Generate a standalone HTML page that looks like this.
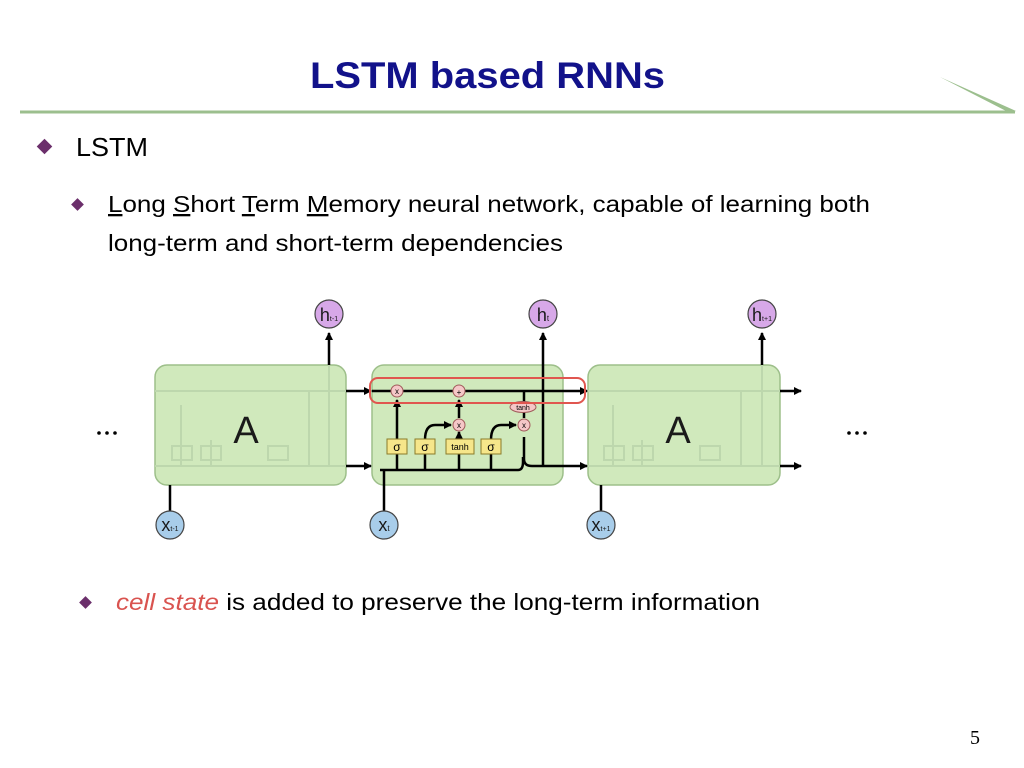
<!DOCTYPE html>
<html><head><meta charset="utf-8"><style>
html,body{margin:0;padding:0;background:#fff;width:1024px;height:768px;overflow:hidden}
svg{display:block}
</style></head><body>
<svg width="1024" height="768" viewBox="0 0 1024 768" xmlns="http://www.w3.org/2000/svg" font-family="Liberation Sans, sans-serif">
<defs>
<marker id="ar" markerWidth="8" markerHeight="8" refX="7" refY="4" orient="auto" markerUnits="userSpaceOnUse"><path d="M0,0 L8,4 L0,8 z" fill="#000"/></marker>
</defs>
<text x="310" y="88" textLength="355" lengthAdjust="spacingAndGlyphs" font-size="37" font-weight="bold" fill="#12128a">LSTM based RNNs</text>
<line x1="20" y1="112" x2="1015" y2="112" stroke="#9cbf8e" stroke-width="3"/>
<polygon points="940,77 1016,111 1010,113" fill="#9cbf8e"/>
<rect x="39" y="141" width="11" height="11" fill="#6b2f6b" transform="rotate(45 44.5 146.5)"/>
<text x="76" y="156" font-size="26" textLength="72" lengthAdjust="spacingAndGlyphs" fill="#000">LSTM</text>
<rect x="73" y="200" width="9" height="9" fill="#6b2f6b" transform="rotate(45 77.5 204.5)"/>
<text x="108" y="212" font-size="23" textLength="762" lengthAdjust="spacingAndGlyphs" fill="#000"><tspan text-decoration="underline">L</tspan>ong <tspan text-decoration="underline">S</tspan>hort <tspan text-decoration="underline">T</tspan>erm <tspan text-decoration="underline">M</tspan>emory neural network, capable of learning both</text>
<text x="108" y="251" font-size="23" textLength="455" lengthAdjust="spacingAndGlyphs" fill="#000">long-term and short-term dependencies</text>
<rect x="81" y="598" width="9" height="9" fill="#6b2f6b" transform="rotate(45 85.5 602.5)"/>
<text x="116" y="610" font-size="23" textLength="644" lengthAdjust="spacingAndGlyphs" fill="#000"><tspan font-style="italic" fill="#d9534f">cell state</tspan> is added to preserve the long-term information</text>
<text x="975" y="744" font-size="20" font-family="Liberation Serif, serif" text-anchor="middle">5</text>

<g fill="#d0e9bc" stroke="#9dbf8a" stroke-width="1.5">
<rect x="155" y="365" width="191" height="120" rx="12"/>
<rect x="372" y="365" width="191" height="120" rx="12"/>
<rect x="588" y="365" width="192" height="120" rx="12"/>
</g>
<g stroke="#bdd7ad" stroke-width="2" fill="none">
<line x1="155" y1="391" x2="346" y2="391"/><line x1="155" y1="466" x2="346" y2="466"/>
<line x1="329" y1="365" x2="329" y2="466"/><line x1="309" y1="391" x2="309" y2="466"/>
<line x1="588" y1="391" x2="780" y2="391"/><line x1="588" y1="466" x2="780" y2="466"/>
<line x1="762" y1="365" x2="762" y2="466"/><line x1="741" y1="391" x2="741" y2="466"/>
<line x1="181" y1="466" x2="181" y2="405"/><line x1="211" y1="466" x2="211" y2="440"/>
<line x1="613" y1="466" x2="613" y2="405"/><line x1="642" y1="466" x2="642" y2="440"/>
<rect x="172" y="446" width="20" height="14"/><rect x="201" y="446" width="20" height="14"/><rect x="268" y="446" width="20" height="14"/>
<rect x="604" y="446" width="20" height="14"/><rect x="633" y="446" width="20" height="14"/><rect x="700" y="446" width="20" height="14"/>
</g>
<text x="246" y="443" font-size="38" text-anchor="middle" fill="#1a1a1a">A</text>
<text x="678" y="443" font-size="38" text-anchor="middle" fill="#1a1a1a">A</text>

<g stroke="#000" stroke-width="2.5" fill="none">
<line x1="329" y1="365" x2="329" y2="333" marker-end="url(#ar)"/>
<line x1="543" y1="466" x2="543" y2="333" marker-end="url(#ar)"/>
<line x1="762" y1="365" x2="762" y2="333" marker-end="url(#ar)"/>
<line x1="346" y1="391" x2="371" y2="391" marker-end="url(#ar)"/>
<line x1="346" y1="466" x2="371" y2="466" marker-end="url(#ar)"/>
<line x1="372" y1="391" x2="587" y2="391" marker-end="url(#ar)"/>
<line x1="380" y1="470" x2="518" y2="470"/>
<path d="M518,470 Q523,470 523,462 L523,457"/>
<path d="M524,437 L524,459 Q524,466 532,466 L587,466" marker-end="url(#ar)"/>
<line x1="780" y1="391" x2="801" y2="391" marker-end="url(#ar)"/>
<line x1="780" y1="466" x2="801" y2="466" marker-end="url(#ar)"/>
<line x1="170" y1="511" x2="170" y2="485"/>
<line x1="384" y1="511" x2="384" y2="470"/>
<line x1="601" y1="511" x2="601" y2="485"/>
<line x1="397" y1="470" x2="397" y2="400" marker-end="url(#ar)"/>
<line x1="425" y1="470" x2="425" y2="440"/>
<path d="M425,440 Q425,425 435,425 L451,425" marker-end="url(#ar)"/>
<line x1="459" y1="470" x2="459" y2="432" marker-end="url(#ar)"/>
<line x1="459" y1="418" x2="459" y2="400" marker-end="url(#ar)"/>
<line x1="491" y1="470" x2="491" y2="440"/>
<path d="M491,440 Q491,425 501,425 L516,425" marker-end="url(#ar)"/>
<line x1="524" y1="391" x2="524" y2="418"/>
</g>
<g fill="#f6e68a" stroke="#8a7b2a" stroke-width="1">
<rect x="387" y="439" width="20" height="15"/><rect x="415" y="439" width="20" height="15"/>
<rect x="446" y="439" width="28" height="15"/><rect x="481" y="439" width="20" height="15"/>
</g>
<g font-size="12" text-anchor="middle" fill="#000">
<text x="397" y="451">σ</text><text x="425" y="451">σ</text><text x="491" y="451">σ</text>
<text x="460" y="450" font-size="9">tanh</text>
</g>
<g fill="#f5c7c7" stroke="#a05a5a" stroke-width="1">
<circle cx="397" cy="391" r="6"/><circle cx="459" cy="391" r="6"/>
<circle cx="459" cy="425" r="6"/><circle cx="524" cy="425" r="6"/>
<ellipse cx="523" cy="407" rx="13" ry="5.5"/>
</g>
<g font-size="8" text-anchor="middle" fill="#000">
<text x="397" y="394">x</text><text x="459" y="395">+</text><text x="459" y="428">x</text><text x="524" y="428">x</text><text x="523" y="410" font-size="7">tanh</text>
</g>
<rect x="370" y="378" width="215" height="25" rx="8" fill="none" stroke="#e0564f" stroke-width="2"/>
<g fill="#d7a8e8" stroke="#444" stroke-width="1.2">
<circle cx="329" cy="314" r="14"/><circle cx="543" cy="314" r="14"/><circle cx="762" cy="314" r="14"/>
</g>
<g fill="#a8cdea" stroke="#444" stroke-width="1.2">
<circle cx="170" cy="525" r="14"/><circle cx="384" cy="525" r="14"/><circle cx="601" cy="525" r="14"/>
</g>
<g fill="#1a1a1a" text-anchor="middle">
<text x="329" y="321" font-size="18">h<tspan font-size="7">t-1</tspan></text>
<text x="543" y="321" font-size="18">h<tspan font-size="8">t</tspan></text>
<text x="762" y="321" font-size="18">h<tspan font-size="7">t+1</tspan></text>
<text x="170" y="531" font-size="18">x<tspan font-size="7">t-1</tspan></text>
<text x="384" y="531" font-size="18">x<tspan font-size="8">t</tspan></text>
<text x="601" y="531" font-size="18">x<tspan font-size="7">t+1</tspan></text>
</g>
<g fill="#000">
<circle cx="99" cy="433" r="1.8"/><circle cx="107" cy="433" r="1.8"/><circle cx="115" cy="433" r="1.8"/>
<circle cx="849" cy="433" r="1.8"/><circle cx="857" cy="433" r="1.8"/><circle cx="865" cy="433" r="1.8"/>
</g>
</svg>
</body></html>
